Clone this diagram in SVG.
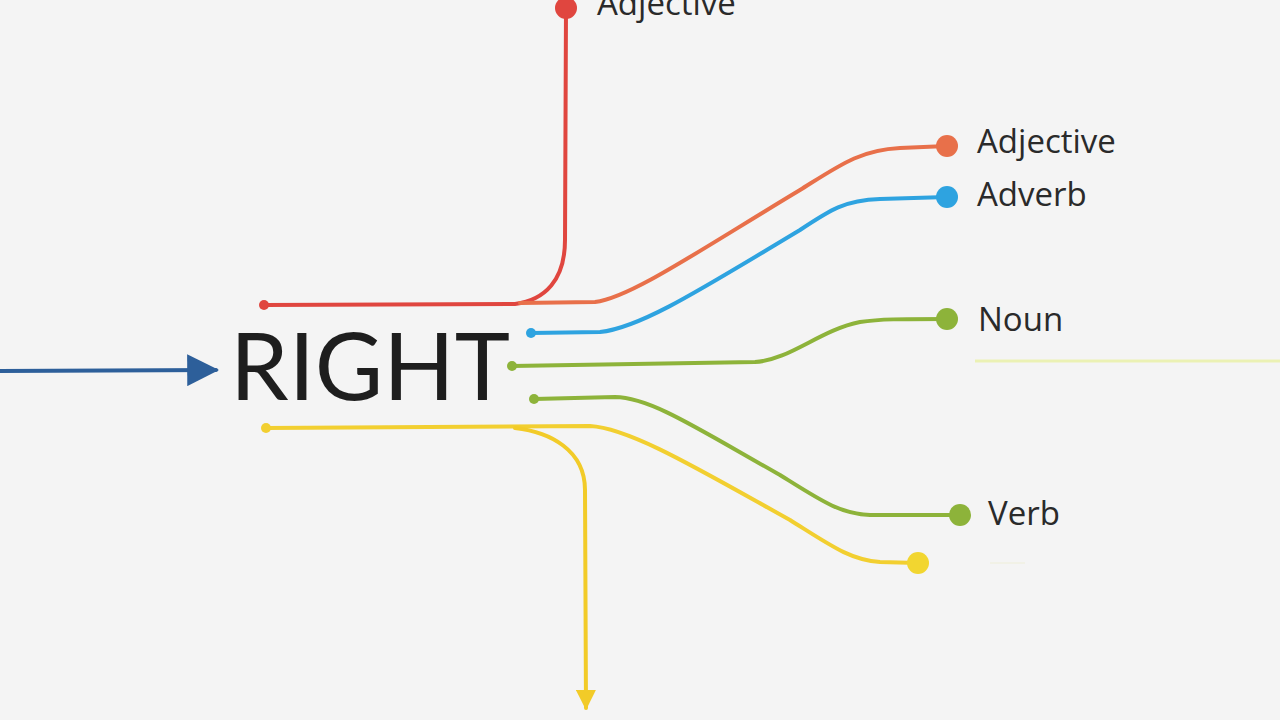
<svg xmlns="http://www.w3.org/2000/svg" width="1280" height="720" viewBox="0 0 1280 720">
<defs>
<style>
.ln{fill:none;stroke-width:4;stroke-linecap:round;stroke-linejoin:round}
.lbl{font-family:"Open Sans","Liberation Sans",sans-serif;font-size:33px;fill:#2a2a2a}
</style>
<marker id="arrBlue" viewBox="0 0 10 10" refX="9" refY="5" markerWidth="8" markerHeight="8" orient="auto" markerUnits="strokeWidth">
<path d="M0,0 L10,5 L0,10 Z" fill="#2d5f9a"/>
</marker>
<marker id="arrYellow" viewBox="0 0 10 10" refX="9" refY="5" markerWidth="5" markerHeight="5" orient="auto" markerUnits="strokeWidth">
<path d="M0,0 L10,5 L0,10 Z" fill="#f2cb28"/>
</marker>
</defs>
<rect width="1280" height="720" fill="#f4f4f4"/>
<g id="connectors">
<path class="ln" stroke="#2d5f9a" stroke-width="3" d="M0,371 L216,370" marker-end="url(#arrBlue)"/>
<path class="ln" stroke="#e0463f" d="M264,305 L515,304 C545,300 565,280 565,240 L566,8"/>
<path class="ln" stroke="#e8704a" d="M520,303 L595,302 C630,298 700,250 800,190 C840,165 860,150 900,148 L947,146"/>
<path class="ln" stroke="#2ea3e0" d="M531,333 L600,332 C640,328 700,290 800,230 C830,210 845,200 880,199 L947,197"/>
<path class="ln" stroke="#8db33a" d="M512,366 L755,362 C790,360 820,330 860,322 C880,319 900,319 947,319"/>
<path class="ln" stroke="#8db33a" d="M534,399 L615,397 C650,397 700,430 780,475 C820,500 840,514 870,515 L960,515"/>
<path class="ln" stroke="#f2cf30" d="M266,428 L590,426 C630,428 700,470 790,520 C830,545 850,560 880,562 L918,563"/>
<path class="ln" stroke="#f2cb28" d="M515,428 C550,432 585,450 585,490 L586,708" marker-end="url(#arrYellow)"/>
<path fill="none" stroke="#ebf1b4" stroke-width="3" d="M975,361 L1280,361"/>
<path fill="none" stroke="#f1f1e6" stroke-width="2" d="M990,563 L1025,563"/>
</g>
<g id="start-dots">
<circle cx="264" cy="305" r="5" fill="#e0463f"/>
<circle cx="531" cy="333" r="5" fill="#2ea3e0"/>
<circle cx="512" cy="366" r="5" fill="#8db33a"/>
<circle cx="534" cy="399" r="5" fill="#8db33a"/>
<circle cx="266" cy="428" r="5" fill="#f2cf30"/>
</g>
<g id="node-right">
<text x="230" y="400" font-family="Lato,'Open Sans','Liberation Sans',sans-serif" font-size="94" font-weight="400" fill="#1e1e1e" textLength="280" lengthAdjust="spacingAndGlyphs">RIGHT</text>
</g>
<g id="node-adjective-top">
<circle cx="566" cy="8" r="11" fill="#e0463f"/>
<text class="lbl" x="597" y="15" font-size="31">Adjective</text>
</g>
<g id="node-adjective">
<circle cx="947" cy="146" r="11" fill="#e8704a"/>
<text class="lbl" x="977" y="153">Adjective</text>
</g>
<g id="node-adverb">
<circle cx="947" cy="197" r="11" fill="#2ea3e0"/>
<text class="lbl" x="977" y="206">Adverb</text>
</g>
<g id="node-noun">
<circle cx="947" cy="319" r="11" fill="#8db33a"/>
<text class="lbl" x="978" y="331">Noun</text>
</g>
<g id="node-verb">
<circle cx="960" cy="515" r="11" fill="#8db33a"/>
<text class="lbl" x="988" y="525">Verb</text>
</g>
<g id="node-yellow-end">
<circle cx="918" cy="563" r="11" fill="#f2d630"/>
</g>
</svg>
